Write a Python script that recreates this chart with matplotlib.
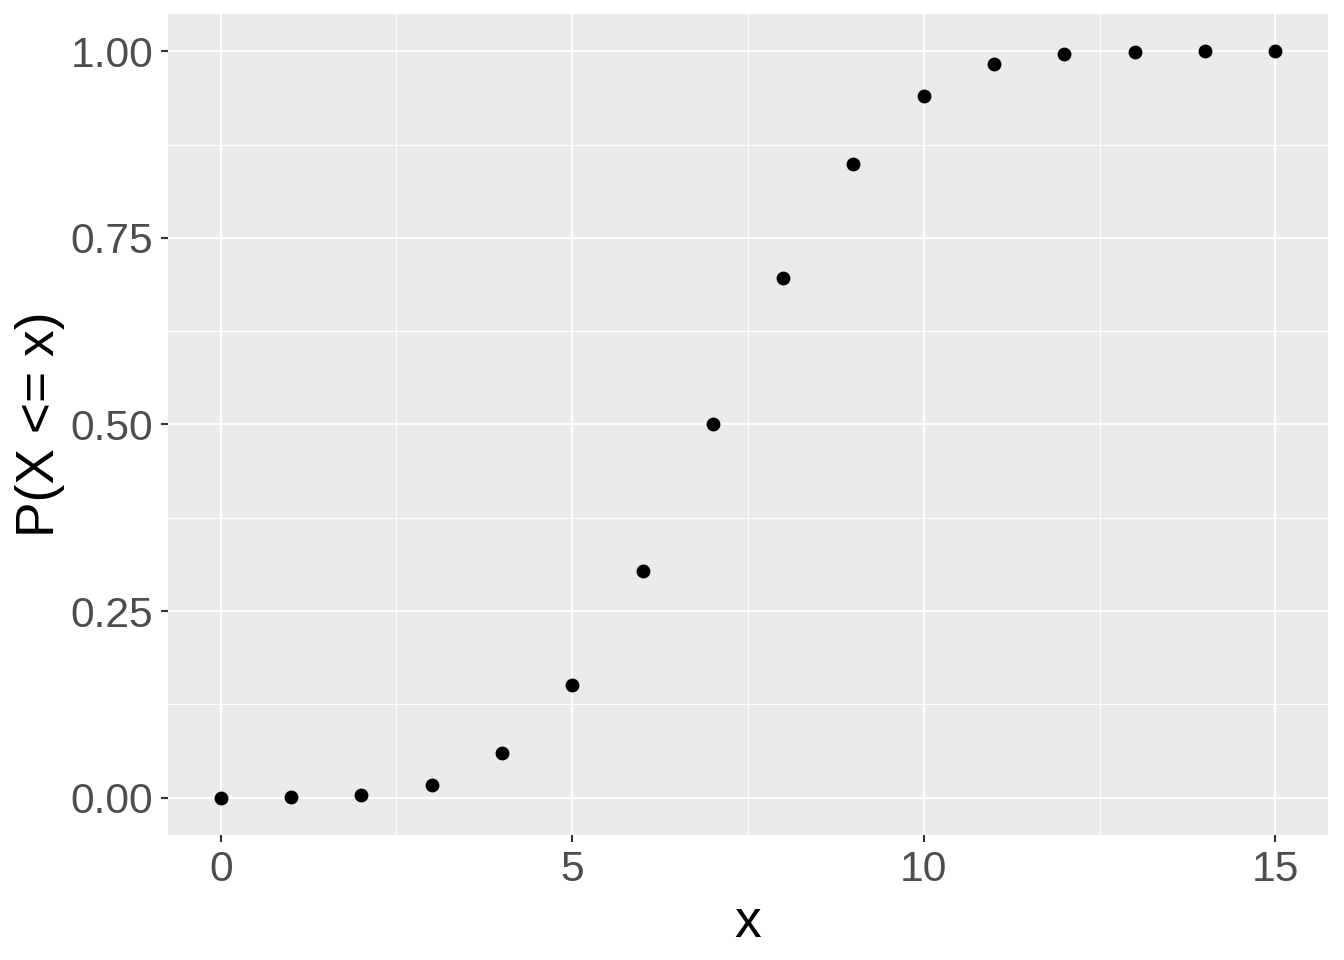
import matplotlib
matplotlib.use("Agg")
import matplotlib.pyplot as plt

plt.rcParams['font.family'] = ['Liberation Sans', 'DejaVu Sans']

# cumulative probabilities
x_vals = [0, 1, 2, 3, 4, 5, 6, 7, 8, 9, 10, 11, 12, 13, 14, 15]
cdf_vals = [0.0000, 0.0005, 0.0037, 0.0176, 0.0592, 0.1509, 0.3036, 0.5000,
            0.6964, 0.8491, 0.9408, 0.9824, 0.9963, 0.9995, 1.0000, 1.0000]

x_ticks = [0, 5, 10, 15]
x_minor = [2.5, 7.5, 12.5]
y_ticks = [0.00, 0.25, 0.50, 0.75, 1.00]
y_minor = [0.125, 0.375, 0.625, 0.875]

fig = plt.figure(figsize=(7, 5), dpi=192)
ax = fig.add_axes([168 / 1344, 1 - 835 / 960, (1328 - 168) / 1344, (835 - 14) / 960])
ax.set_facecolor("#EBEBEB")
for s in ax.spines.values():
    s.set_visible(False)

ax.set_xlim(-0.75, 15.75)
ax.set_ylim(-0.05, 1.05)
ax.set_xticks(x_ticks)
ax.set_xticks(x_minor, minor=True)
ax.set_yticks(y_ticks)
ax.set_yticks(y_minor, minor=True)
ax.set_yticklabels([f"{v:.2f}" for v in y_ticks])

ax.grid(which="major", color="white", linewidth=0.8)
ax.grid(which="minor", color="white", linewidth=0.4)
ax.set_axisbelow(True)

ax.tick_params(which="major", length=2.6, width=0.8, color="#333333",
               labelsize=16, labelcolor="#4D4D4D", pad=3)
ax.tick_params(which="minor", length=0)

ax.scatter(x_vals, cdf_vals, s=27, color="black", zorder=3, linewidths=0)

ax.set_xlabel("x", fontsize=20, labelpad=3)
ax.set_ylabel("P(X <= x)", fontsize=20, labelpad=2)

fig.savefig("out.png", dpi=192)
